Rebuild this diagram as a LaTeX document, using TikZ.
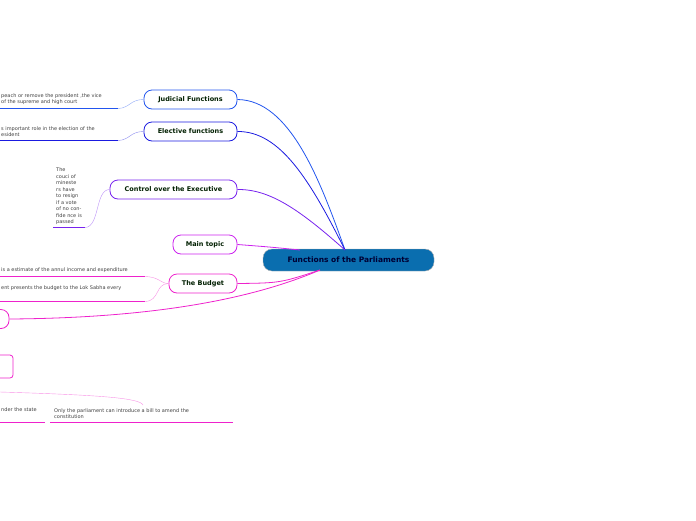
\documentclass[tikz,border=0pt]{standalone}
\usepackage{fontspec}
\setmainfont{DejaVu Sans}
\begin{document}
\begin{tikzpicture}[x=1pt,y=-1pt,
 topic/.style={draw,rounded corners=8pt,line width=0.8pt,minimum height=19pt,font=\fontsize{6.5}{7}\selectfont\bfseries,text=black!70!green!40!black,fill=white},
 leaf/.style={font=\fontsize{5}{6}\selectfont,text=black!75,anchor=south west,align=left,inner sep=1pt}]
\useasboundingbox (0,0) rectangle (696,520);
\definecolor{cB}{HTML}{2255EE}\definecolor{cB2}{HTML}{1A1AE0}
\definecolor{cV}{HTML}{7722EE}\definecolor{cM}{HTML}{CC22EE}\definecolor{cP}{HTML}{EE22CC}
\node[draw=black!30,fill={rgb,255:red,10;green,110;blue,175},rounded corners=9pt,minimum width=171pt,minimum height=22pt,font=\fontsize{7.5}{8}\selectfont\bfseries,text=black!80!blue] (c) at (348.5,260) {Functions of the Parliaments};
\node[topic,draw=cB,minimum width=93pt] (j) at (190.5,99.5) {Judicial Functions};
\node[topic,draw=cB2,minimum width=93pt] (e) at (190.5,131.5) {Elective functions};
\node[topic,draw=cV,minimum width=127pt] (k) at (173.5,189.5) {Control over the Executive};
\node[topic,draw=cM,minimum width=64pt] (m) at (205,244.5) {Main topic};
\node[topic,draw=cP,minimum width=68pt] (b) at (203,283.5) {The Budget};
\node[topic,draw=cP,minimum width=30pt] (p) at (-6,319) {};
\node[draw=cP,line width=0.8pt,rounded corners=3pt,minimum width=40pt,minimum height=23pt] (q) at (-7,366.5) {};
\coordinate (c1) at (345,250);\coordinate (c2) at (320,270);
\draw[cB,line width=0.8pt] (c1) .. controls (320,180) and (290,100) .. (j.east);
\draw[cB2,line width=0.8pt] (c1) .. controls (310,180) and (280,131) .. (e.east);
\draw[cV,line width=0.8pt] (c1) .. controls (300,210) and (270,189) .. (k.east);
\draw[cM,line width=0.8pt] (300,250) .. controls (270,247) .. (m.east);
\draw[cP,line width=0.8pt] (c2) .. controls (280,283) .. (b.east);
\draw[cP,line width=0.8pt] (c2) .. controls (250,300) and (150,318) .. (p.east);
% leaves
\node[leaf] (l1) at (0,106) {peach or remove the president ,the vice\\of the supreme and high court};
\draw[cB,line width=0.8pt] (0,108.5) -- (118,108.5) coordinate (l1e);
\draw[cB!50] (l1e) .. controls (130,108) and (130,99.5) .. (j.west);
\node[leaf] (l2) at (0,138) {s important role in the election of the\\esident};
\draw[cB2,line width=0.8pt] (0,140.5) -- (118,140.5) coordinate (l2e);
\draw[cB2!50] (l2e) .. controls (130,140) and (130,131.5) .. (e.west);
\node[leaf,text width=26pt,font=\fontsize{5}{6.5}\selectfont] (l3) at (55,226) {The couci of mineste rs have to resign if a vote of no confide nce is passed};
\draw[cV,line width=0.8pt] (53,227.5) -- (85,227.5) coordinate (l3e);
\draw[cV!50] (l3e) .. controls (100,227) and (95,189.5) .. (k.west);
\node[leaf] (l4) at (0,274) {is a estimate of the annul income and expenditure};
\draw[cP,line width=0.8pt] (0,276.5) -- (145,276.5) coordinate (l4e);
\draw[cP!50] (l4e) .. controls (160,277) and (160,283.5) .. (b.west);
\node[leaf] (l5) at (0,292) {ent presents the budget to the Lok Sabha every};
\draw[cP,line width=0.8pt] (0,301.5) -- (145,301.5) coordinate (l5e);
\draw[cP!50] (l5e) .. controls (160,301) and (155,283.5) .. (b.west);
\node[leaf] (l6) at (0,413) {nder the state};
\draw[cP,line width=0.8pt] (0,422.5) -- (45,422.5);
\node[leaf] (l7) at (53,420) {Only the parliament can introduce a bill to amend  the\\constitution};
\draw[cP,line width=0.8pt] (50,422.5) -- (233,422.5);
\draw[cP!50] (0,392) .. controls (100,395) and (140,398) .. (143,405);
\end{tikzpicture}
\end{document}
